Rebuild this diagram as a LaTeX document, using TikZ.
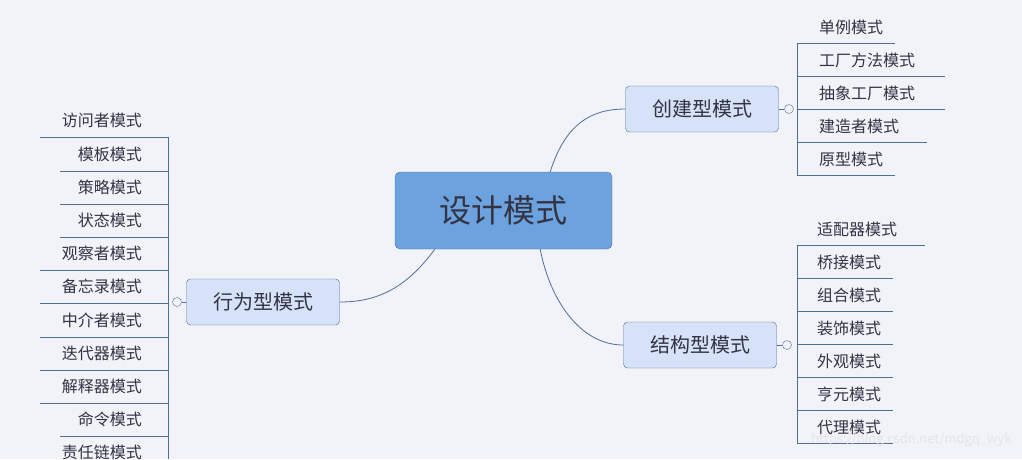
\documentclass[tikz,border=0pt]{standalone}
\usepackage{fontspec}
\setmainfont{Noto Sans CJK SC}
\usetikzlibrary{positioning}
\definecolor{bg}{HTML}{F2F3F9}
\definecolor{lnk}{HTML}{4F6E98}
\definecolor{rootfill}{HTML}{6CA2DE}
\definecolor{subfill}{HTML}{D5E2F8}
\definecolor{txt}{HTML}{333344}
\begin{document}
\begin{tikzpicture}[x=1pt,y=-1pt,
        every node/.style = {text=txt},
        root/.style = {draw=lnk, fill=rootfill, rounded corners=5pt, minimum width=217pt, minimum height=77pt, font=\fontsize{32}{34}\selectfont},
        branch/.style = {draw=lnk, fill=subfill, rounded corners=4pt, minimum width=153pt, minimum height=46pt, font=\fontsize{20}{22}\selectfont},
        leaf/.style = {inner sep=2pt, font=\fontsize{16}{18}\selectfont},
        link/.style = {draw=lnk, line width=0.8pt},
        knob/.style = {draw=lnk, fill=bg, circle, inner sep=0pt, minimum size=9pt}
        ]
        \fill[bg] (0,0) rectangle (1022,459);
        \useasboundingbox (0,0) rectangle (1022,459);
        \node[root] (root) at (503.5,210.5) {设计模式};
        \node[branch] (create) at (702,109) {创建型模式};
        \node[branch] (struct) at (700,345) {结构型模式};
        \node[branch] (behave) at (263,302) {行为型模式};
        \node[knob] (ck) at (789,109) {};
        \node[knob] (sk) at (787,345) {};
        \node[knob] (bk) at (177,302) {};
        \draw[link] (create.east) -- (ck);
        \draw[link] (struct.east) -- (sk);
        \draw[link] (behave.west) -- (bk);
        \draw[link] (root.north east) ++(-62,0) coordinate (r1) .. controls (565,125) and (590,109) .. (create.west);
        \draw[link] (root.south east) ++(-72,0) coordinate (r2) .. controls (550,300) and (580,345) .. (struct.west);
        \draw[link] (root.south west) ++(40,0) coordinate (r3) .. controls (405,290) and (375,302) .. (behave.east);
        % creational leaves
        \coordinate (ctop) at (797,43);
        \coordinate (cbot) at (797,176);
        \draw[link] (ctop) -- (cbot);
        \foreach \n/\t/\y/\e in {c1/单例模式/27/895, c2/工厂方法模式/60/945, c3/抽象工厂模式/93/945, c4/建造者模式/126/927, c5/原型模式/159/895} {
          \node[leaf, anchor=west] (\n) at (817,\y) {\t};
          \draw[link] (797,\y+16) -- (\e,\y+16);
        }
        % structural leaves
        \coordinate (stop) at (797,245);
        \coordinate (sbot) at (797,444);
        \draw[link] (stop) -- (sbot);
        \foreach \n/\t/\y/\e in {s1/适配器模式/229/925, s2/桥接模式/262/893, s3/组合模式/295/893, s4/装饰模式/328/893, s5/外观模式/361/893, s6/亨元模式/394/893, s7/代理模式/427/893} {
          \node[leaf, anchor=west] (\n) at (815,\y) {\t};
          \draw[link] (797,\y+16) -- (\e,\y+16);
        }
        % behavioral leaves
        \coordinate (btop) at (168,137);
        \coordinate (bbot) at (168,459);
        \draw[link] (btop) -- (bbot);
        \foreach \n/\t/\y/\s in {b1/访问者模式/120/40, b2/模板模式/154/60, b3/策略模式/187/60, b4/状态模式/220/60, b5/观察者模式/253/40, b6/备忘录模式/286/40, b7/中介者模式/320/40, b8/迭代器模式/353/40, b9/解释器模式/386/40, b10/命令模式/419/60, b11/责任链模式/452/40} {
          \node[leaf, anchor=east] (\n) at (144,\y) {\t};
          \draw[link] (\s,\y+17) -- (168,\y+17);
        }
        \node[anchor=east, text=white!80!gray, font=\fontsize{13}{14}\selectfont] (mark) at (1015,440) {https://blog.csdn.net/mdgq\_wyk};
\end{tikzpicture}
\end{document}
